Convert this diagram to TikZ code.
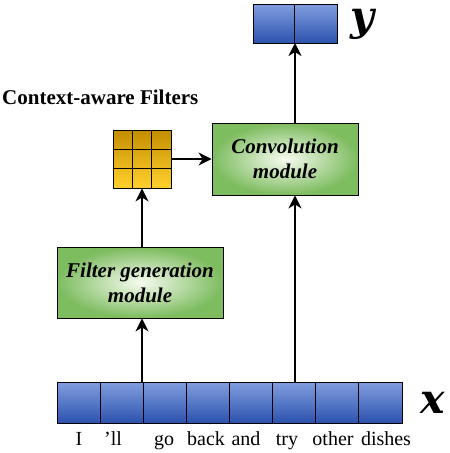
\documentclass[tikz,border=0pt]{standalone}
\usepackage{fontspec}
\setmainfont{Liberation Serif}
\newfontfamily\varfont{DejaVu Serif}
\usetikzlibrary{arrows.meta,shadings}
\definecolor{bluetop}{RGB}{128,158,222}
\definecolor{bluebot}{RGB}{45,82,175}
\definecolor{greenin}{RGB}{246,251,240}
\definecolor{greenout}{RGB}{125,188,95}
\definecolor{orin}{RGB}{255,208,45}
\definecolor{orout}{RGB}{196,142,0}
\tikzset{
  cell/.style={draw=black, line width=0.8pt, top color=bluetop, bottom color=bluebot},
  modbox/.style={draw=black, line width=0.8pt, inner color=greenin, outer color=greenout,
     align=center, inner sep=0pt, font=\fontsize{21}{25}\selectfont\bfseries\itshape},
  arr/.style={line width=2.8pt, -{Stealth[length=13pt,width=13pt,inset=4pt]}},
  word/.style={anchor=base, font=\fontsize{20}{22}\selectfont, inner sep=0pt},
  varlab/.style={anchor=base, font=\varfont\fontsize{41}{41}\selectfont\bfseries\itshape, inner sep=0pt},
}
\begin{document}
\begin{tikzpicture}[x=1pt,y=-1pt]
\useasboundingbox (0,0) rectangle (450,453);
% bottom row x
\foreach \i in {0,...,7} {
  \path[cell] ({57+\i*43.125},382) rectangle ({57+(\i+1)*43.125},423);
}
\coordinate (xa) at (142,382);
\coordinate (xb) at (295,382);
\node[varlab] (xlab) at (433,413) {x};
% words
\node[word] (w1) at (79,445) {I};
\node[word] (w2) at (113,445) {’ll};
\node[word] (w3) at (164,445) {go};
\node[word] (w4) at (206,445) {back};
\node[word] (w5) at (246,445) {and};
\node[word] (w6) at (287,445) {try};
\node[word] (w7) at (333,445) {other};
\node[word] (w8) at (386,445) {dishes};
% filter generation module
\node[modbox, minimum width=166pt, minimum height=71pt] (fg) at (140,282.5) {Filter generation\\module};
% filter grid
\node[draw=black, line width=0.8pt, top color=orout, bottom color=orin,
  minimum width=58pt, minimum height=58pt, inner sep=0pt] (grid) at (142,159) {};
\foreach \k in {1,2} {
  \draw[line width=0.8pt] ({113+\k*58/3},130) -- ({113+\k*58/3},188);
  \draw[line width=0.8pt] (113,{130+\k*58/3}) -- (171,{130+\k*58/3});
}
\node[anchor=west, inner sep=0pt, font=\fontsize{21}{22}\selectfont\bfseries] (caf) at (2,97) {Context-aware Filters};
% convolution module
\node[modbox, minimum width=146pt, minimum height=72pt] (cv) at (285,159) {Convolution\\module};
% y
\path[cell] (253,4) rectangle (294,43);
\path[cell] (294,4) rectangle (337,43);
\coordinate (yb) at (295,43);
\node[varlab] (ylab) at (362,30) {y};
% arrows
\draw[arr] (xa) -- (fg.south -| xa);
\draw[arr] (fg.north -| xa) -- (grid.south -| xa);
\draw[arr] (grid.east) -- (cv.west |- grid.east);
\draw[arr] (xb) -- (cv.south -| xb);
\draw[arr] (cv.north -| xb) -- (yb);
\end{tikzpicture}
\end{document}
